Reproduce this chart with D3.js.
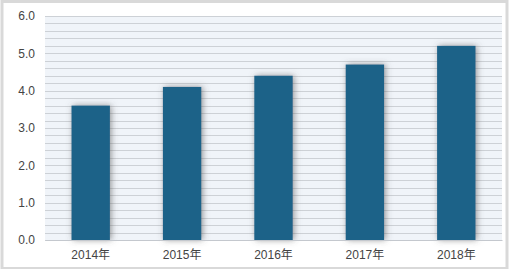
<!DOCTYPE html>
<html><head><meta charset="utf-8">
<script src="https://cdn.jsdelivr.net/npm/d3@7"></script>
<style>body{margin:0;background:#fff}svg{display:block}</style>
</head><body>
<script>
const categories = ["2014年","2015年","2016年","2017年","2018年"];
const values = [3.6, 4.1, 4.4, 4.7, 5.2];
const yTicks = [0,1,2,3,4,5,6];
const minorTicks = d3.range(0, 6.0001, 0.2);

const W = 515, H = 269;
const m = {l:45, r:13, t:16, b:29};
const svg = d3.select("body").append("svg").attr("width", W).attr("height", H);

svg.append("rect").attr("x",0).attr("y",0).attr("width",W).attr("height",H).attr("fill","#fff");
svg.append("rect").attr("x",2).attr("y",1.5).attr("width",W-10).attr("height",H-2)
  .attr("fill","none").attr("stroke","#d9d9d9").attr("stroke-width",3);

const defs = svg.append("defs");
const f = defs.append("filter").attr("id","sh").attr("x","-30%").attr("y","-10%").attr("width","160%").attr("height","120%");
f.append("feDropShadow").attr("dx",1.5).attr("dy",0).attr("stdDeviation",3).attr("flood-color","#555").attr("flood-opacity",0.6);

const x = d3.scaleBand().domain(categories).range([m.l, W-m.r]).paddingInner(0.58).paddingOuter(0.29);
const y = d3.scaleLinear().domain([0,6]).range([H-m.b, m.t]);

svg.append("rect").attr("x",m.l).attr("y",m.t).attr("width",W-m.r-m.l).attr("height",y(0)-m.t).attr("fill","#f0f4f9");

svg.append("g").selectAll("line").data(minorTicks).join("line")
  .attr("x1",m.l).attr("x2",W-m.r).attr("y1",d=>Math.round(y(d))+0.5).attr("y2",d=>Math.round(y(d))+0.5)
  .attr("stroke","#cdd1d6").attr("stroke-width",1);

svg.append("g").selectAll("rect").data(values).join("rect")
  .attr("x",(d,i)=>x(categories[i])).attr("width",x.bandwidth())
  .attr("y",d=>y(d)).attr("height",d=>y(0)-y(d))
  .attr("fill","#1c6288").attr("filter","url(#sh)");

const yAxis = svg.append("g").attr("transform",`translate(${m.l},0)`)
  .call(d3.axisLeft(y).tickValues(yTicks).tickFormat(d3.format(".1f")).tickSize(0).tickPadding(10));
yAxis.select(".domain").remove();
yAxis.selectAll("text").attr("fill","#444").style("font-family","Liberation Sans, Arial, sans-serif").style("font-size","12px");

const xAxis = svg.append("g").attr("transform",`translate(0,${y(0)})`)
  .call(d3.axisBottom(x).tickSize(0).tickPadding(10));
xAxis.select(".domain").attr("stroke","#c4c8ce");
xAxis.selectAll("text").attr("fill","#444").style("font-family","Liberation Sans, Noto Sans CJK SC, sans-serif").style("font-size","12px");
</script>
</body></html>
